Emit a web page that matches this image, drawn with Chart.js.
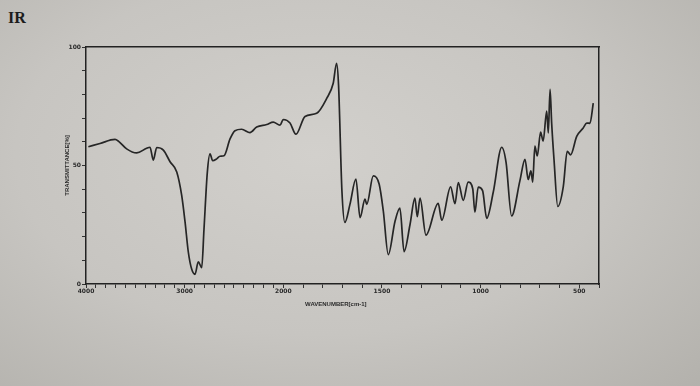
<!DOCTYPE html>
<html>
<head>
<meta charset="utf-8">
<script src="https://cdn.jsdelivr.net/npm/chart.js@4/dist/chart.umd.min.js"></script>
<style>
  html, body { margin:0; padding:0; }
  body {
    width:700px; height:386px; overflow:hidden; position:relative;
    background: radial-gradient(ellipse at 45% 40%, #d2d0cc 0%, #c7c5c1 55%, #b3b1ac 100%);
  }
  #title { position:absolute; left:8px; top:9px; font:bold 16px "Liberation Serif", serif; color:#1c1c1c; }
  canvas { position:absolute; left:0; top:0; }
</style>
</head>
<body>
<div id="title">IR</div>
<canvas id="c" width="700" height="386"></canvas>
<script>
// Wavenumbers (cm-1)
const wavenumbers = [3976, 3858, 3706, 3672, 3588, 3486, 3385, 3351, 3318, 3283, 3216, 3148, 3080, 3030, 2996, 2963, 2929, 2895, 2862, 2827, 2804, 2770, 2743, 2716, 2675, 2642, 2601, 2540, 2490, 2422, 2338, 2270, 2168, 2102, 2034, 2000, 1966, 1936, 1890, 1831, 1780, 1747, 1730, 1720, 1703, 1688, 1662, 1632, 1611, 1586, 1577, 1544, 1514, 1493, 1468, 1434, 1409, 1388, 1358, 1333, 1321, 1307, 1277, 1215, 1197, 1152, 1130, 1113, 1088, 1063, 1040, 1029, 1012, 990, 969, 936, 893, 871, 843, 801, 775, 759, 745, 736, 725, 713, 696, 683, 665, 657, 648, 640, 628, 609, 581, 561, 544, 513, 480, 462, 446, 429];
// Transmittance (%)
const transmittance = [57.9, 59.3, 61.0, 60.3, 57.0, 55.3, 57.3, 57.7, 52.3, 57.6, 56.5, 51.6, 47.3, 37.4, 26.2, 13.5, 6.3, 4.1, 9.3, 6.9, 23.1, 47.2, 54.9, 52.0, 52.8, 53.9, 54.1, 61.2, 64.7, 65.3, 63.9, 66.2, 67.3, 68.3, 67.0, 69.4, 67.9, 63.2, 70.7, 72.0, 78.3, 84.7, 93.1, 83.9, 39.4, 26.0, 33.7, 44.3, 28.0, 35.8, 33.6, 45.6, 42.1, 30.7, 12.4, 26.4, 32.0, 13.7, 25.0, 36.2, 28.4, 36.2, 20.6, 34.0, 26.9, 41.0, 33.9, 42.8, 35.3, 43.0, 40.2, 30.3, 40.9, 39.4, 27.7, 38.7, 57.7, 51.3, 28.7, 43.5, 52.6, 44.1, 47.7, 43.0, 58.2, 54.0, 64.1, 60.3, 73.0, 63.8, 82.1, 68.0, 52.5, 32.7, 41.1, 56.0, 54.5, 62.3, 65.8, 67.9, 67.8, 76.3];
// Tick labels
const xTickLabels = [4000, 3000, 2000, 1500, 1000, 500];
const yTickLabels = [0, 50, 100];
const xTitle = "WAVENUMBER[cm-1]";
const yTitle = "TRANSMITTANCE[%]";

// Scale change at 2000 cm-1 (half scale above 2000)
function toPos(w) { return w > 2000 ? 2000 + (w - 2000) / 2 : w; }
function toWn(p) { return p > 2000 ? 2000 + (p - 2000) * 2 : p; }

const points = wavenumbers.map((w, i) => ({ x: toPos(w), y: transmittance[i] }));
const allXTicks = [];
for (let w = 4000; w >= 400; w -= 100) allXTicks.push(toPos(w));

const ink = '#222';
const tickFont = { family: '"DejaVu Sans", sans-serif', size: 6, weight: 'bold' };

new Chart(document.getElementById('c'), {
  type: 'line',
  data: { datasets: [{
    data: points, borderColor: '#262626', borderWidth: 1.7,
    pointRadius: 0, cubicInterpolationMode: 'monotone', fill: false
  }]},
  options: {
    responsive: false, animation: false, devicePixelRatio: 1,
    parsing: false,
    layout: { padding: { left: 64, top: 47, right: 101, bottom: 78 } },
    plugins: { legend: { display: false }, tooltip: { enabled: false } },
    scales: {
      x: {
        type: 'linear', position: 'bottom', reverse: true, min: 400, max: 3000,
        afterBuildTicks: s => { s.ticks = allXTicks.map(v => ({ value: v })); },
        afterFit: s => { s.height = 24; },
        ticks: {
          autoSkip: false, maxRotation: 0, minRotation: 0, padding: 0,
          color: '#2a2a2a', font: tickFont,
          callback: v => { const w = Math.round(toWn(v)); return xTickLabels.includes(w) ? String(w) : ''; }
        },
        grid: { drawOnChartArea: false, tickLength: 4, tickColor: '#333', tickWidth: 1 },
        border: { color: ink, width: 1.5 },
        title: { display: true, text: xTitle + '        ', color: '#2a2a2a',
                 font: { family: '"Liberation Sans", sans-serif', size: 6, weight: 'bold' },
                 padding: { top: -3, bottom: 0 } }
      },
      xTop: {
        type: 'linear', position: 'top', reverse: true, min: 400, max: 3000,
        afterFit: s => { s.height = 0; },
        ticks: { display: false }, grid: { display: false },
        border: { color: ink, width: 1.5 }
      },
      y: {
        type: 'linear', position: 'left', min: 0, max: 100,
        afterBuildTicks: s => { const t = []; for (let v = 0; v <= 100; v += 10) t.push({ value: v }); s.ticks = t; },
        afterFit: s => { s.width = 22; },
        ticks: {
          autoSkip: false, padding: 1, color: '#2a2a2a', font: tickFont,
          callback: v => yTickLabels.includes(v) ? String(v) : ''
        },
        grid: { drawOnChartArea: false, tickLength: 4, tickColor: '#333' },
        border: { color: ink, width: 1.5 },
        title: { display: true, text: yTitle, color: '#2a2a2a',
                 font: { family: '"Liberation Sans", sans-serif', size: 6, weight: 'bold' },
                 padding: 0 }
      },
      yRight: {
        type: 'linear', position: 'right', min: 0, max: 100,
        afterFit: s => { s.width = 0; },
        ticks: { display: false }, grid: { display: false },
        border: { color: ink, width: 1.5 }
      }
    }
  }
});
</script>
</body>
</html>
